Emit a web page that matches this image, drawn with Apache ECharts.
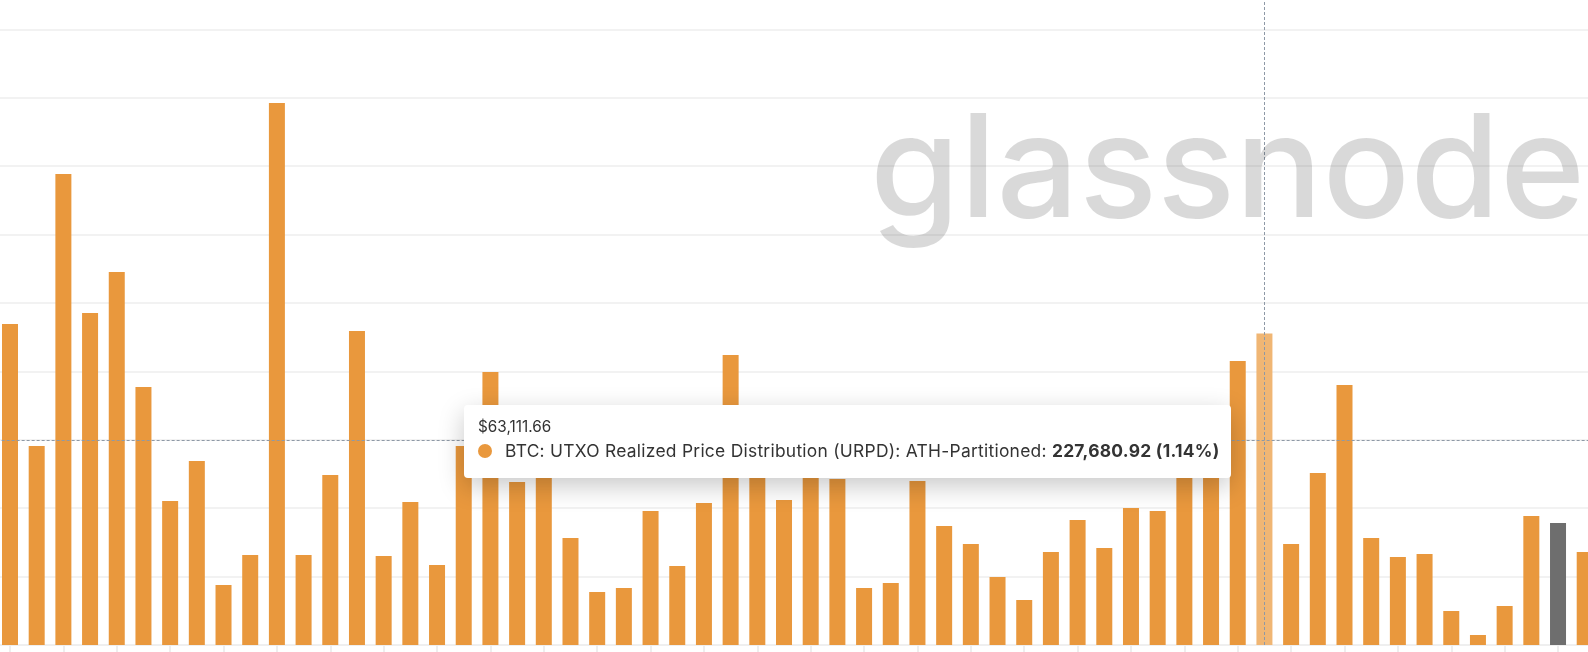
<!DOCTYPE html>
<html>
<head>
<meta charset="utf-8">
<script src="https://cdn.jsdelivr.net/npm/echarts@6/dist/echarts.min.js"></script>
<style>
html,body{margin:0;padding:0;background:#fff;overflow:hidden;width:1588px;height:652px;position:relative}
#chart{position:absolute;left:-20px;top:-60px;width:1640px;height:720px}
</style>
</head>
<body>
<div id="chart"></div>
<script>
const seriesName = "BTC: UTXO Realized Price Distribution (URPD): ATH-Partitioned";
const hoverPrice = "$63,111.66";
const hoverShare = "1.14%";
const watermark = "glassnode";
const hoverIndex = 47;
const currentPriceIndex = 58;
const crosshairValue = 149340;
const crosshairIndex = 46.89;
const yTicks = [0, 50000, 100000, 150000, 200000, 250000, 300000, 350000, 400000, 450000, 500000];
const supply = [
  234650, 145470, 344300, 242700, 272660, 188600, 105260, 134500, 43860, 65790,
  396200, 65790, 124270, 229530, 65060, 104530, 58480, 145470, 199560, 119150,
  135000, 78220, 38740, 41670, 97950, 57750, 103800, 211990, 131600, 106000,
  127900, 121350, 41670, 45320, 119880, 86990, 73830, 49710, 32900, 67980,
  91380, 70910, 100150, 97950, 131600, 127900, 207600, 227680.92, 73830, 125730,
  190060, 78220, 64330, 66520, 24850, 7310, 28510, 94300, 89180, 67980
];
const categories = supply.map((v, i) => i === hoverIndex ? hoverPrice : "");

const ORANGE = "#e9983d", HOVER = "#f0b674", GRAY = "#6e6e6e", GRID = "#eeeeee";
const chart = echarts.init(document.getElementById("chart"), null, {renderer: "canvas", width: 1640, height: 720});

chart.setOption({
  animation: false,
  backgroundColor: "#ffffff",
  textStyle: {fontFamily: "Inter"},
  grid: {left: 16.655, top: 21, width: 1601.4, height: 684, containLabel: false},
  xAxis: {
    type: "category",
    data: categories,
    axisLine: {show: true, lineStyle: {color: GRID, width: 1.5}},
    axisTick: {show: true, alignWithLabel: true, interval: 1, length: 7, lineStyle: {color: GRID, width: 2}},
    axisLabel: {show: false},
    splitLine: {show: false}
  },
  yAxis: {
    type: "value",
    min: yTicks[0],
    max: yTicks[yTicks.length - 1],
    interval: yTicks[1] - yTicks[0],
    axisLine: {show: false},
    axisTick: {show: false},
    axisLabel: {show: false},
    splitLine: {show: true, lineStyle: {color: GRID, width: 1.5}}
  },
  tooltip: {
    trigger: "axis",
    alwaysShowContent: true,
    transitionDuration: 0,
    renderMode: "html",
    confine: false,
    axisPointer: {type: "none"},
    backgroundColor: "#ffffff",
    borderWidth: 0,
    padding: 0,
    extraCssText: "box-shadow:0 8px 26px rgba(0,0,0,.22);border-radius:4px;",
    position: () => [484, 465],
    formatter: () => {
      const v = supply[hoverIndex].toLocaleString("en-US", {minimumFractionDigits: 2});
      return `<div style="box-sizing:border-box;width:767px;height:73px;padding:12px 0 0 14px;font-family:Inter;color:#333;white-space:nowrap;">
        <div style="font-size:15.3px;line-height:20px;">${hoverPrice}</div>
        <div style="display:flex;align-items:center;font-size:17.4px;line-height:27px;letter-spacing:.27px;">
          <span style="display:block;flex:none;width:14px;height:14px;border-radius:50%;background:${ORANGE};margin:0 13px 0 0;"></span>
          <span style="flex:none;">${seriesName}:&nbsp;<b style="font-weight:700;">${v} (${hoverShare})</b></span>
        </div></div>`;
    }
  },
  graphic: [{
    type: "text",
    z: 50,
    silent: true,
    x: 890,
    y: 305,
    scaleX: 1.015,
    style: {
      text: watermark,
      font: "500 143px Inter",
      fill: "rgba(0,0,0,0.15)",
      textVerticalAlign: "bottom"
    }
  }],
  series: [{
    name: seriesName,
    type: "bar",
    barWidth: 16,
    emphasis: {disabled: true},
    data: supply.map((v, i) => ({
      value: v,
      itemStyle: {color: i === hoverIndex ? HOVER : i === currentPriceIndex ? GRAY : ORANGE}
    })),
    markLine: {
      silent: true,
      symbol: "none",
      animation: false,
      label: {show: false},
      lineStyle: {color: "#8e99a6", width: 1, type: [3, 2]},
      data: [{yAxis: crosshairValue}, {xAxis: crosshairIndex}]
    }
  }]
});

const px = chart.convertToPixel({gridIndex: 0}, [hoverIndex, crosshairValue]);
chart.dispatchAction({type: "showTip", x: px[0], y: px[1]});
</script>
</body>
</html>
